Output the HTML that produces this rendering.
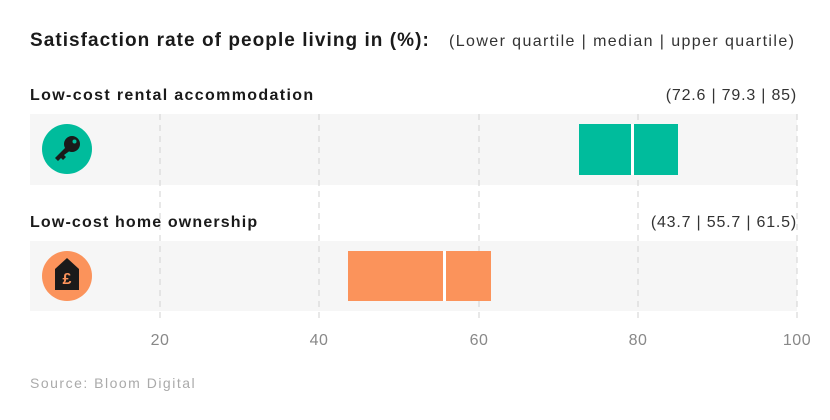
<!DOCTYPE html>
<html><head><style>
body{margin:0;width:830px;height:420px;background:#fff;font-family:"Liberation Sans",sans-serif;position:relative;overflow:hidden}
.t{position:absolute;white-space:nowrap}
</style></head><body>
<svg width="830" height="420" style="position:absolute;left:0;top:0">
<rect x="30" y="114" width="767" height="71" fill="#f6f6f6"/>
<rect x="30" y="241" width="767" height="70" fill="#f6f6f6"/>
<g stroke="#d8d8d8" stroke-width="1.2" stroke-dasharray="6,5">
<line x1="160" y1="114" x2="160" y2="322"/>
<line x1="319" y1="114" x2="319" y2="322"/>
<line x1="479" y1="114" x2="479" y2="322"/>
<line x1="638" y1="114" x2="638" y2="322"/>
<line x1="797" y1="114" x2="797" y2="322"/>
</g>
<rect x="579" y="124" width="99" height="51" fill="#00bc9c"/>
<rect x="631" y="124" width="3" height="51" fill="#fff"/>
<rect x="348" y="251" width="143" height="50" fill="#fb935b"/>
<rect x="443" y="251" width="3" height="50" fill="#fff"/>
<circle cx="67" cy="149" r="25" fill="#00bc9c"/>
<g fill="#1a1a1a">
<circle cx="72" cy="144" r="8"/>
<path d="M67 146 L55 158 L58 161 L61 158 L63 160 L66 157 L64 155 L71 150 Z"/>
</g>
<circle cx="74.5" cy="141.5" r="2" fill="#00bc9c"/>
<circle cx="67" cy="276" r="25" fill="#fb935b"/>
<path d="M55 269 L67 258 L79 269 L79 290 L55 290 Z" fill="#1a1a1a"/>
<text x="67" y="284" font-family="Liberation Sans" font-weight="bold" font-size="16" fill="#fb935b" text-anchor="middle">£</text>
<g font-size="16" fill="#888" text-anchor="middle" font-family="Liberation Sans" letter-spacing="0.5">
<text x="160" y="345">20</text><text x="319" y="345">40</text><text x="479" y="345">60</text><text x="638" y="345">80</text><text x="797" y="345">100</text>
</g>
</svg>
<div class="t" style="left:30px;top:30px;font-size:19px;letter-spacing:1.05px;font-weight:bold;color:#1a1a1a">Satisfaction rate of people living in (%):</div>
<div class="t" style="left:449px;top:33px;font-size:16px;letter-spacing:1.4px;color:#333">(Lower quartile | median | upper quartile)</div>
<div class="t" style="left:30px;top:87px;font-size:16px;letter-spacing:1.35px;font-weight:bold;color:#1a1a1a">Low-cost rental accommodation</div>
<div class="t" style="right:33px;top:87px;font-size:16px;letter-spacing:0.8px;color:#333">(72.6 | 79.3 | 85)</div>
<div class="t" style="left:30px;top:214px;font-size:16px;letter-spacing:1.15px;font-weight:bold;color:#1a1a1a">Low-cost home ownership</div>
<div class="t" style="right:33px;top:214px;font-size:16px;letter-spacing:0.8px;color:#333">(43.7 | 55.7 | 61.5)</div>
<div class="t" style="left:30px;top:375px;font-size:14px;letter-spacing:1.5px;color:#aaa">Source: Bloom Digital</div>
</body></html>
